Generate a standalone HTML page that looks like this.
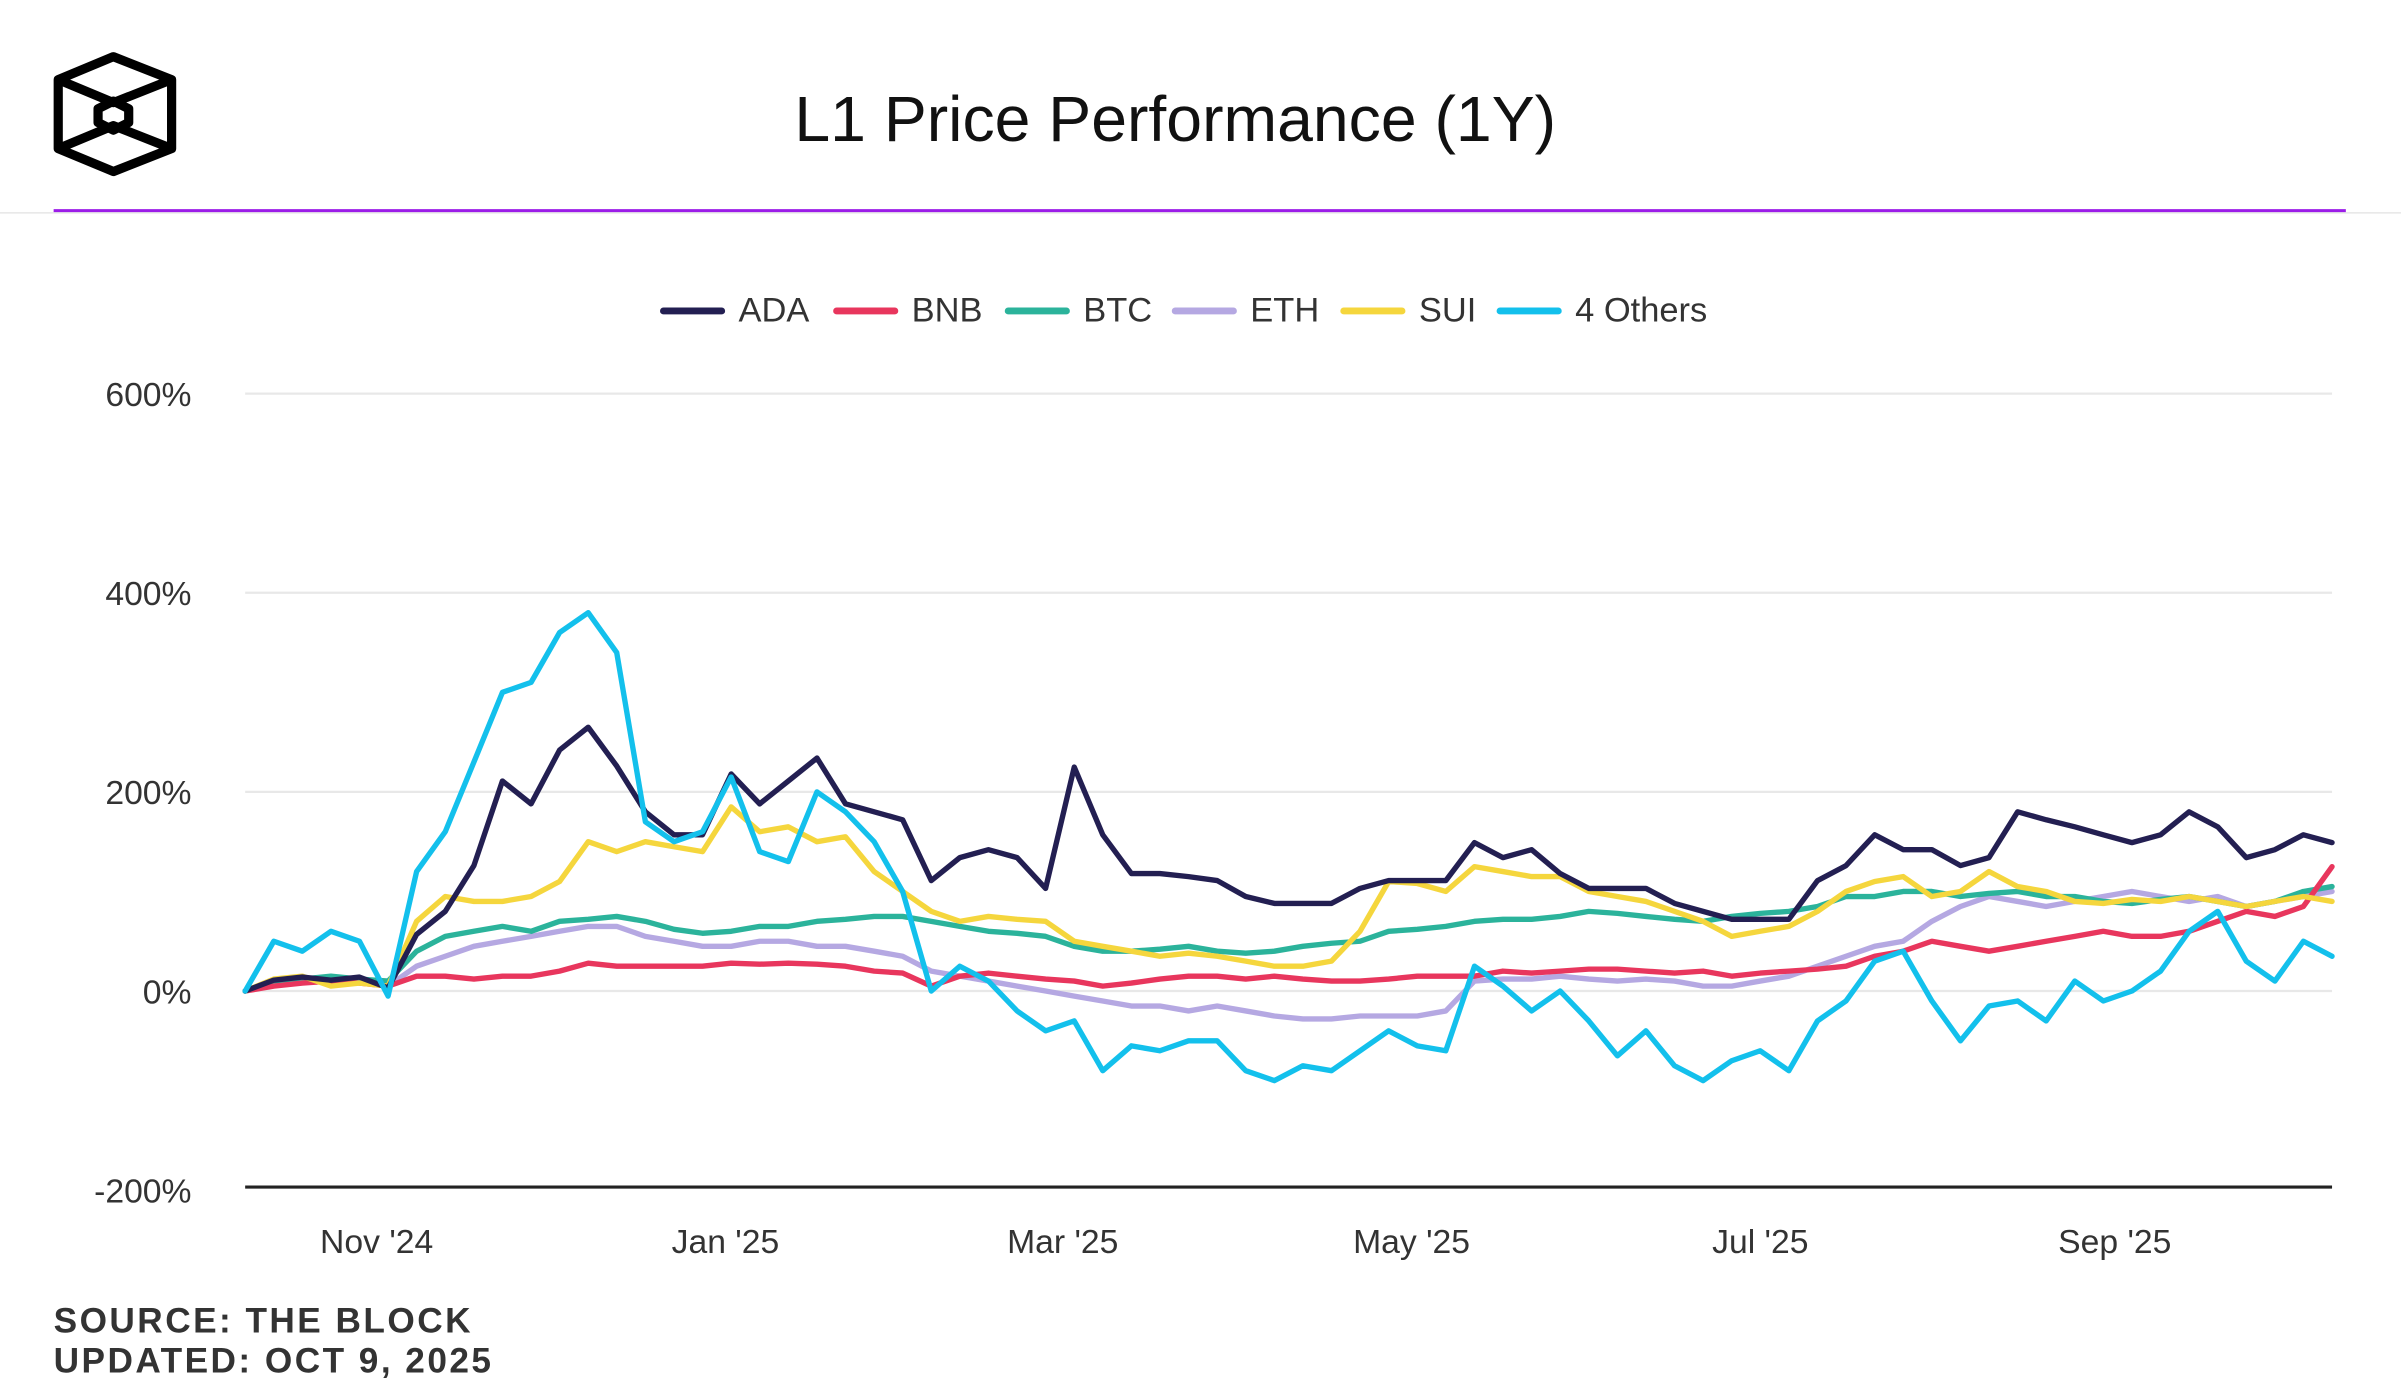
<!DOCTYPE html>
<html><head><meta charset="utf-8"><style>
html,body{margin:0;padding:0;background:#fff;}
svg{display:block;}
text{font-family:"Liberation Sans",sans-serif;}
</style></head><body>
<svg id="chart" width="2401" height="1400" viewBox="0 0 1567 914" preserveAspectRatio="none">
<g fill="none" stroke="#000" stroke-width="6" stroke-linejoin="round">
<path d="M74,37 L38,52 L38,97 L74,112 L112,97 L112,52 Z"/>
<path d="M38,52 L74,67 L112,52 M38,97 L74,82 L112,97"/>
<path d="M74,66 L84,71 L84,80 L74,85 L64,80 L64,71 Z"/>
</g>
<text x="767" y="92" text-anchor="middle" font-size="42" fill="#111">L1 Price Performance (1Y)</text>
<line x1="0" y1="139" x2="1567" y2="139" stroke="#e6e6e6" stroke-width="1"/>
<line x1="35" y1="137.5" x2="1531" y2="137.5" stroke="#9b1de8" stroke-width="2"/>
<g id="legend"></g>
<g id="grid"></g>
<g id="series"></g>
<line x1="160" y1="775" x2="1522" y2="775" stroke="#222" stroke-width="2"/>
<g id="xticks"></g>
<text x="35" y="870" font-size="23" font-weight="bold" fill="#333" letter-spacing="1.6">SOURCE: THE BLOCK</text>
<text x="35" y="896" font-size="23" font-weight="bold" fill="#333" letter-spacing="1.6">UPDATED: OCT 9, 2025</text>
</svg>
<script>
const yTicks = [600, 400, 200, 0, -200];
const xTickLabels = ["Nov '24", "Jan '25", "Mar '25", "May '25", "Jul '25", "Sep '25"];
const xTickDays = [23, 84, 143, 204, 265, 327];
const seriesNames = ["ADA", "BNB", "BTC", "ETH", "SUI", "4 Others"];
const seriesColors = ["#231f52", "#e8365d", "#2bb39b", "#b5a8e2", "#f5d63d", "#13c0ec"];
const dayStep = 5;
const ada = [0,11,14,11,14,3,57,80,126,211,188,242,265,226,180,157,157,218,188,211,234,188,180,172,111,134,142,134,103,225,157,118,118,115,111,95,88,88,88,103,111,111,111,149,134,142,118,103,103,103,88,80,72,72,72,111,126,157,142,142,126,134,180,172,165,157,149,157,180,165,134,142,157,149];
const bnb = [0,5,8,10,8,5,15,15,12,15,15,20,28,25,25,25,25,28,27,28,27,25,20,18,5,15,18,15,12,10,5,8,12,15,15,12,15,12,10,10,12,15,15,15,20,18,20,22,22,20,18,20,15,18,20,22,25,35,40,50,45,40,45,50,55,60,55,55,60,70,80,75,85,125];
const btc = [0,10,12,15,12,10,40,55,60,65,60,70,72,75,70,62,58,60,65,65,70,72,75,75,70,65,60,58,55,45,40,40,42,45,40,38,40,45,48,50,60,62,65,70,72,72,75,80,78,75,72,70,75,78,80,85,95,95,100,100,95,98,100,95,95,90,88,92,95,90,85,90,100,105];
const eth = [0,8,10,12,10,5,25,35,45,50,55,60,65,65,55,50,45,45,50,50,45,45,40,35,20,15,10,5,0,-5,-10,-15,-15,-20,-15,-20,-25,-28,-28,-25,-25,-25,-20,10,12,12,15,12,10,12,10,5,5,10,15,25,35,45,50,70,85,95,90,85,90,95,100,95,90,95,85,90,95,100];
const sui = [0,12,15,5,8,5,70,95,90,90,95,110,150,140,150,145,140,185,160,165,150,155,120,100,80,70,75,72,70,50,45,40,35,38,35,30,25,25,30,60,110,108,100,125,120,115,115,100,95,90,80,70,55,60,65,80,100,110,115,95,100,120,105,100,90,88,92,90,95,90,85,90,95,90];
const others = [0,50,40,60,50,-5,120,160,230,300,310,360,380,340,170,150,160,215,140,130,200,180,150,100,0,25,10,-20,-40,-30,-80,-55,-60,-50,-50,-80,-90,-75,-80,-60,-40,-55,-60,25,5,-20,0,-30,-65,-40,-75,-90,-70,-60,-80,-30,-10,30,40,-10,-50,-15,-10,-30,10,-10,0,20,60,80,30,10,50,35];
const seriesData = [ada, bnb, btc, eth, sui, others];

const NS = "http://www.w3.org/2000/svg";
const X0 = 160, X1 = 1522, totalDays = 365;
function xScale(d){ return X0 + (X1 - X0) * d / totalDays; }
function yScale(v){ return 647 - v * 0.65; }
function mk(tag, attrs, parent){ const e = document.createElementNS(NS, tag); for (const k in attrs) e.setAttribute(k, attrs[k]); parent.appendChild(e); return e; }

const grid = document.getElementById('grid');
yTicks.forEach(v => {
  if (v !== -200) {
    const l = mk('line', {x1: X0, x2: X1, y1: yScale(v), y2: yScale(v), stroke: '#e8e8e8', 'stroke-width': 1.5}, grid);
    
    
  }
  const t = mk('text', {x: 125, y: yScale(v) + 8, 'text-anchor': 'end', 'font-size': 22, fill: '#333'}, grid);
  t.textContent = v + '%';
  
  
});

const xt = document.getElementById('xticks');
xTickLabels.forEach((lab, i) => {
  const t = mk('text', {x: xScale(xTickDays[i]), y: 818, 'text-anchor': 'middle', 'font-size': 22, fill: '#333'}, xt);
  t.textContent = lab;
  
  
});

const sg = document.getElementById('series');
[3, 2, 1, 4, 0, 5].forEach(si => {
  const arr = seriesData[si];
  const pts = arr.map((v, i) => xScale(Math.min(i * dayStep, totalDays)).toFixed(1) + ',' + yScale(v).toFixed(1));
  const p = mk('polyline', {points: pts.join(' '), fill: 'none', stroke: seriesColors[si], 'stroke-width': 3.5, 'stroke-linejoin': 'round', 'stroke-linecap': 'round'}, sg);
  
  
});

const lg = document.getElementById('legend');
const legendX = [433, 546, 658, 767, 877, 979];
seriesNames.forEach((n, i) => {
  const g = mk('g', {}, lg);
  
  
  mk('line', {x1: legendX[i], x2: legendX[i] + 38, y1: 203, y2: 203, stroke: seriesColors[i], 'stroke-width': 4.5, 'stroke-linecap': 'round'}, g);
  const t = mk('text', {x: legendX[i] + 49, y: 210, 'font-size': 22.5, fill: '#333'}, g);
  t.textContent = n;
});
</script>
</body></html>
